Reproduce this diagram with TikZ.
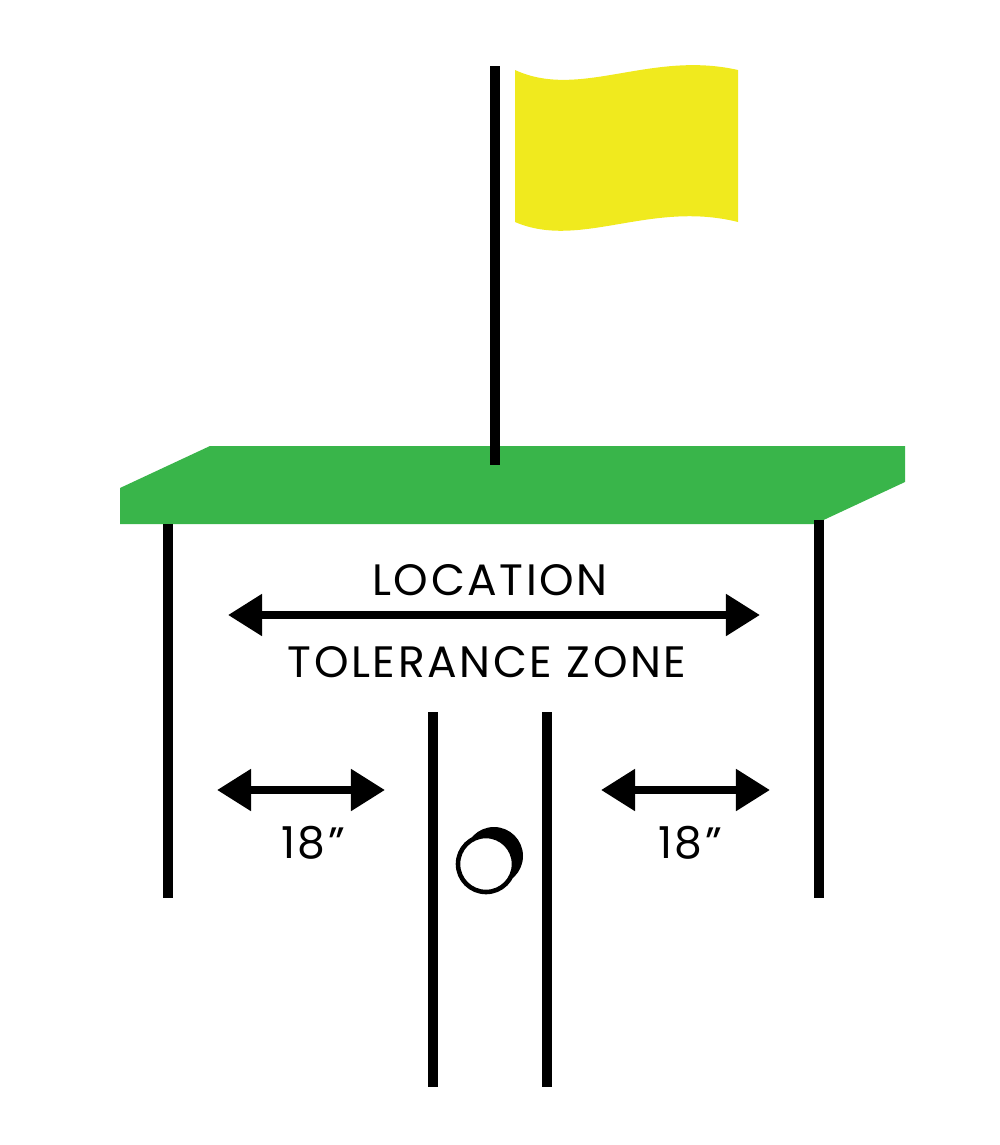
\documentclass[tikz,border=0pt]{standalone}
\usepackage{fontspec}
\setmainfont{Poppins}
\usetikzlibrary{arrows.meta}
\definecolor{turf}{HTML}{39B54A}
\definecolor{flagy}{HTML}{F0EA1E}
\tikzset{
  post/.style={line width=2.8pt},
  span/.style={line width=2.3pt,{Triangle[length=0.34cm,width=0.4cm]}-{Triangle[length=0.34cm,width=0.4cm]}},
  lbl/.style={font=\fontsize{12.5}{14}\selectfont\addfontfeature{LetterSpace=6}},
}
\begin{document}
\begin{tikzpicture}[x=0.01cm,y=-0.01cm]
\useasboundingbox (0,0) rectangle (1000,1145);
% green
\fill[turf] (120,488) -- (210,446) -- (905,446) -- (905,482) -- (815,524) -- (120,524) -- cycle;
% flag
\fill[flagy] (515,70) .. controls (580,100) and (650,50) .. (738,70) -- (738,222)
  .. controls (650,200) and (580,250) .. (515,222) -- cycle;
\draw[post] (495,66) -- (495,465);
% posts
\draw[post] (168,524) -- (168,898);
\draw[post] (819,520) -- (819,898);
\draw[post] (433,712) -- (433,1087);
\draw[post] (547,712) -- (547,1087);
% arrows and labels
\coordinate (zl) at (228,615); \coordinate (zr) at (760,615);
\draw[span] (zl) -- (zr);
\node[lbl] (loc) at (490,580) {LOCATION};
\node[lbl] (tz) at (487,662) {TOLERANCE ZONE};
\coordinate (al) at (217,790); \coordinate (ar) at (385,790);
\draw[span] (al) -- (ar);
\coordinate (bl) at (601,790); \coordinate (br) at (770,790);
\draw[span] (bl) -- (br);
\node[lbl] (dl) at (313,843) {18”};
\node[lbl] (dr) at (690,843) {18”};
% ball
\fill (494,856) circle (29);
\draw[fill=white,line width=1.3pt] (486,864) circle (28);
\end{tikzpicture}
\end{document}
